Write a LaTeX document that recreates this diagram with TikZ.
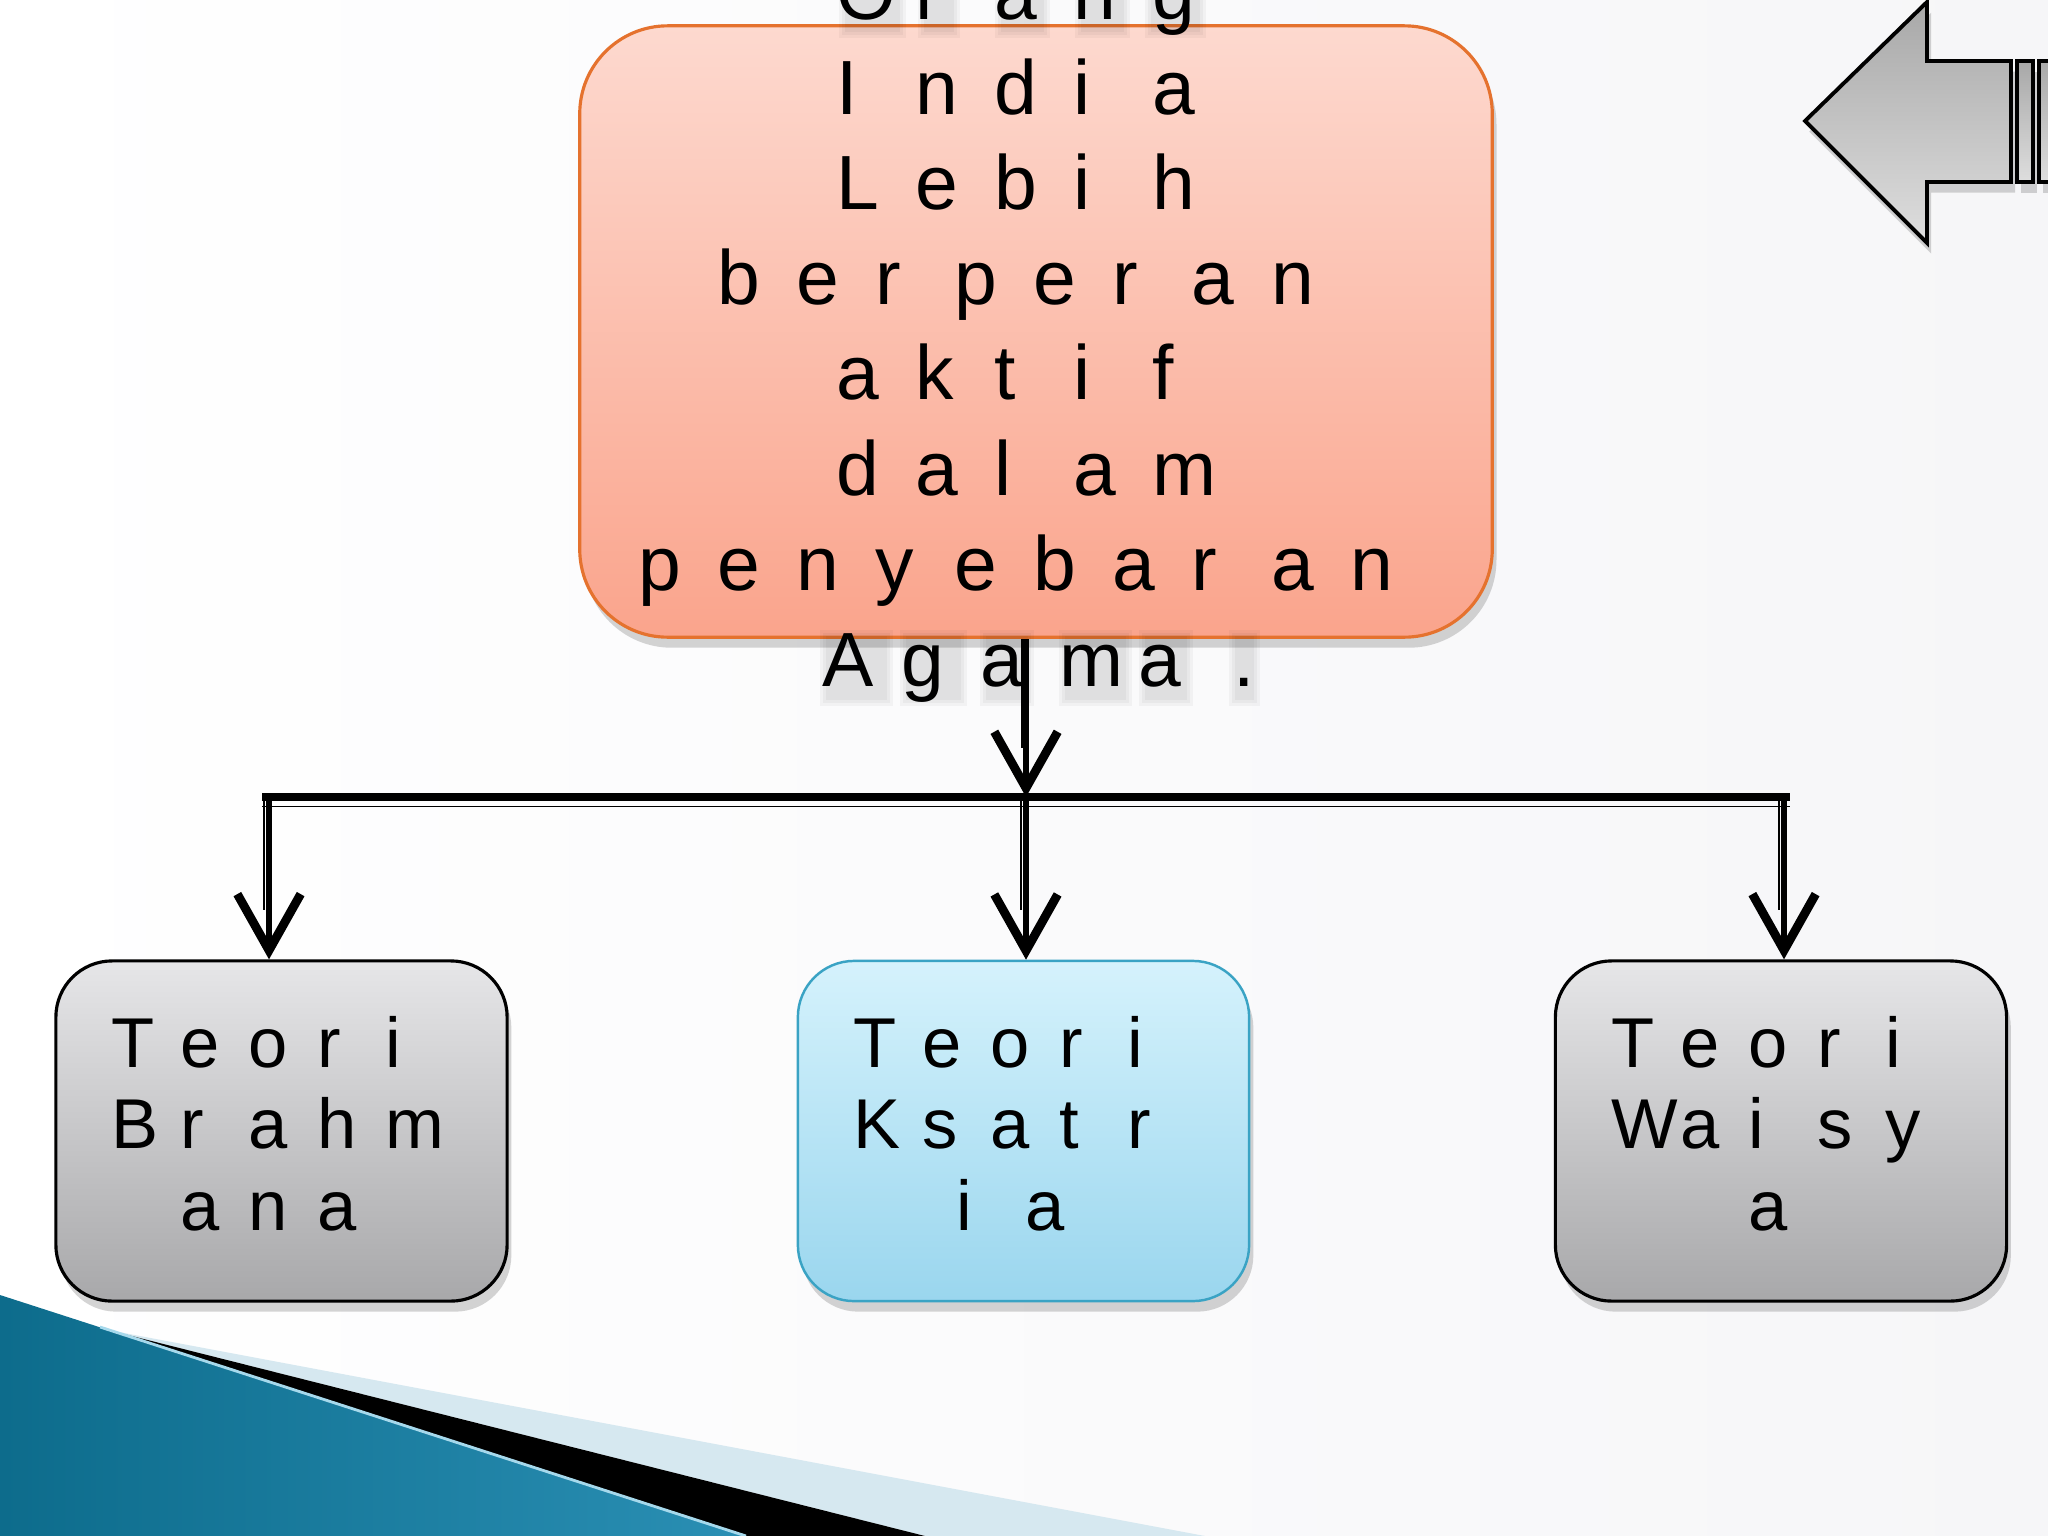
\documentclass[tikz,border=0pt]{standalone}
\usepackage{fontspec}
\setmainfont{Liberation Sans}
\usetikzlibrary{arrows.meta,shadows}
\definecolor{salmontop}{HTML}{FDD9CF}
\definecolor{salmonbot}{HTML}{FAA48C}
\definecolor{orangeedge}{HTML}{E5722E}
\definecolor{graytop}{HTML}{E6E6E8}
\definecolor{graybot}{HTML}{A8A8AA}
\definecolor{bluetop}{HTML}{D5F2FC}
\definecolor{bluebot}{HTML}{9AD6EE}
\definecolor{blueedge}{HTML}{3AA3C4}
\definecolor{tealdark}{HTML}{0D6C8C}
\definecolor{teallight}{HTML}{4DB3D8}
\definecolor{tealedge}{HTML}{2A8FB4}
\definecolor{paleband}{HTML}{D6E8F0}
\definecolor{bgright}{HTML}{F6F6F8}
\definecolor{arrtop}{HTML}{A8A8A8}
\definecolor{arrbot}{HTML}{DEDEDE}
\makeatletter
\newcommand\cellrow[2]{\def\cell@w{#1}\cell@loop#2\relax}
\def\cell@loop#1{\ifx\relax#1\else\makebox[\cell@w][l]{#1}\expandafter\cell@loop\fi}
\makeatother
\newcommand\topfont{\fontsize{21.85pt}{26pt}\selectfont}
\newcommand\botfont{\fontsize{20.06pt}{24pt}\selectfont}
\begin{document}
\begin{tikzpicture}[x=0.01cm,y=-0.01cm,
  shadowed/.style={drop shadow={opacity=0.28, shadow xshift=1.2pt, shadow yshift=-3pt, fill=black!60}},
  topbox/.style={shadowed, draw=orangeedge, line width=0.9pt, rounded corners=25pt,
    top color=salmontop, bottom color=salmonbot, minimum width=9.12cm, minimum height=6.11cm, inner sep=0},
  graybox/.style={shadowed, draw=black, line width=0.9pt, rounded corners=16pt,
    top color=graytop, bottom color=graybot, minimum width=4.51cm, minimum height=3.40cm, inner sep=0},
  bluebox/.style={shadowed, draw=blueedge, line width=0.7pt, rounded corners=16pt,
    top color=bluetop, bottom color=bluebot, minimum width=4.51cm, minimum height=3.40cm, inner sep=0},
  toptext/.style={anchor=base west, inner sep=0, font=\topfont},
  bottext/.style={anchor=base west, inner sep=0, font=\botfont},
  halo/.style={fill=black, opacity=0.035},
  arr/.style={line width=1.5pt, -{Straight Barb[length=16pt,width=18pt,line width=2.5pt]}},
  thinline/.style={line width=0.45pt},
  barline/.style={line width=2.3pt},
  bigarrow/.style={shadowed, draw=black, line width=1.1pt, top color=arrtop, bottom color=arrbot}
]
\useasboundingbox (0,0) rectangle (2048,1536);
\clip (0,0) rectangle (2048,1536);
% background
\shade[left color=white, right color=bgright] (0,0) rectangle (2048,1536);
% bottom-left decoration
\fill[paleband] (108,1330) -- (1205,1536) -- (925,1536) -- cycle;
\fill[black] (108,1330) -- (925,1536) -- (746,1536) -- cycle;
\shade[left color=tealdark, middle color=teallight, right color=tealedge]
  (0,1295) -- (746,1536) -- (0,1536) -- cycle;
\draw[line width=0.8pt, teallight!50!white] (100,1327) -- (746,1536);
% boxes
\node[topbox] (top) at (1036,331.5) {};
\node[graybox] (bl) at (281.5,1131) {};
\node[bluebox] (bm) at (1023.5,1131) {};
\node[graybox] (br) at (1781,1131) {};
% top-right arrow
\draw[bigarrow] (1805,121) -- (1927,2) -- (1927,61) -- (2011,61) -- (2011,182) -- (1927,182) -- (1927,243) -- cycle;
\draw[bigarrow] (2017,61) rectangle (2033,182);
\draw[bigarrow] (2039,61) rectangle (2058,182);
% soft rectangular halos behind the letters that stand outside the box
\foreach \xa/\xb in {842/891,921/945,998/1035,1078/1115,1148/1191} {
  \foreach \e in {0,3,6} {
    \fill[halo] (\xa+3-\e,-30-\e) rectangle (\xb+9+\e,32+\e);
  }
}
\foreach \xa/\xb in {823/878,903/952,983/1019,1062/1117,1142/1178,1232/1245} {
  \foreach \e in {0,3,6} {
    \fill[halo] (\xa+3-\e,636-\e) rectangle (\xb+9+\e,700+\e);
  }
}
% top text
\node[toptext] (t1) at (836,19)  {\cellrow{22.48pt}{Orang}};
\node[toptext] (t2) at (836,114) {\cellrow{22.48pt}{India}};
\node[toptext] (t3) at (836,209) {\cellrow{22.48pt}{Lebih}};
\node[toptext] (t4) at (717,304) {\cellrow{22.48pt}{berperan}};
\node[toptext] (t5) at (836,399) {\cellrow{22.48pt}{aktif}};
\node[toptext] (t6) at (836,495) {\cellrow{22.48pt}{dalam}};
\node[toptext] (t7) at (638,590) {\cellrow{22.48pt}{penyebaran}};
\node[toptext] (t8) at (822,686) {\cellrow{22.48pt}{Agama}\hspace{4.5pt}.};
% bottom texts
\node[bottext] (l1) at (111,1067) {\cellrow{19.49pt}{Teori}};
\node[bottext] (l2) at (111,1148) {\cellrow{19.49pt}{Brahm}};
\node[bottext] (l3) at (111,1230) {\cellrow{19.49pt}{~ana}};
\node[bottext] (m1) at (853,1067) {\cellrow{19.49pt}{Teori}};
\node[bottext] (m2) at (853,1148) {\cellrow{19.49pt}{Ksatr}};
\node[bottext] (m3) at (956,1230) {\cellrow{19.49pt}{ia}};
\node[bottext] (r1) at (1611,1067) {\cellrow{19.49pt}{Teori}};
\node[bottext] (r2) at (1611,1148) {\cellrow{19.49pt}{Waisy}};
\node[bottext] (r3) at (1611,1230) {\cellrow{19.49pt}{~~a}};
% connectors
\coordinate (hub) at (1026,797);
\coordinate (barL) at (262,797);
\coordinate (barR) at (1790,797);
\coordinate (cL) at (269,797);
\coordinate (cM) at (1026,797);
\coordinate (cR) at (1784,797);
\draw[barline] (barL) -- (barR);
\draw[thinline] ([yshift=-2.7pt]barL) -- ([yshift=-2.7pt]barR);
\draw[arr] (top.south -| hub) -- (hub);
\draw[thinline] ([xshift=-1.2pt]top.south -| hub) -- ([xshift=-1.2pt,yshift=14pt]hub);
\draw[arr] (cL) -- (cL |- bl.north);
\draw[arr] (cM) -- (cM |- bm.north);
\draw[arr] (cR) -- (cR |- br.north);
\draw[thinline] ([xshift=-1.4pt]cL) -- ([xshift=-1.4pt,yshift=14pt]cL |- bl.north);
\draw[thinline] ([xshift=-1.4pt]cM) -- ([xshift=-1.4pt,yshift=14pt]cM |- bm.north);
\draw[thinline] ([xshift=-1.4pt]cR) -- ([xshift=-1.4pt,yshift=14pt]cR |- br.north);
\end{tikzpicture}
\end{document}
